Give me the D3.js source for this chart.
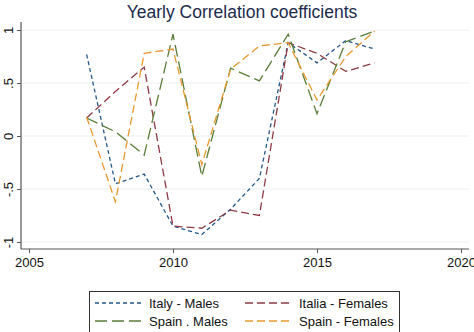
<html>
  <head>
    <meta charset="UTF-8">
    <script src="https://d3js.org/d3.v7.min.js"></script>
    <style>
      body { margin: 0; background: #fff; font-family: Arial, Helvetica, sans-serif; }
    </style>
  </head>
  <body>
    <svg width="474" height="332"></svg>
    <script>
      const years = [2007, 2008, 2009, 2010, 2011, 2012, 2013, 2014, 2015, 2016, 2017];
      const italyMales = [0.77, -0.45, -0.36, -0.85, -0.93, -0.69, -0.40, 0.88, 0.69, 0.90, 0.82];
      const italiaFemales = [0.17, 0.42, 0.65, -0.85, -0.87, -0.70, -0.75, 0.88, 0.78, 0.61, 0.69];
      const spainMales = [0.17, 0.04, -0.18, 0.96, -0.38, 0.64, 0.52, 0.96, 0.21, 0.89, 0.99];
      const spainFemales = [0.18, -0.62, 0.78, 0.82, -0.27, 0.63, 0.85, 0.88, 0.34, 0.75, 0.99];
      const xTicks = [2005, 2010, 2015, 2020];
      const yTicks = [1, 0.5, 0, -0.5, -1];
      const yTickLabels = ["1", ".5", "0", "-.5", "-1"];

      const series = [
        { name: "Italy - Males", values: italyMales, color: "#24588a", dash: "4 3" },
        { name: "Italia - Females", values: italiaFemales, color: "#8e3a44", dash: "8 4" },
        { name: "Spain . Males", values: spainMales, color: "#5a7d38", dash: "12 5" },
        { name: "Spain - Females", values: spainFemales, color: "#e9992f", dash: "8 4" }
      ];

      const svg = d3.select("svg");

      const x = d3.scaleLinear().domain([2005, 2020]).range([29, 461]);
      const y = d3.scaleLinear().domain([-1, 1]).range([242, 30]);

      svg.append("text")
        .attr("x", 242)
        .attr("y", 18)
        .attr("text-anchor", "middle")
        .attr("font-size", 17.5)
        .attr("fill", "#1c2b4d")
        .text("Yearly Correlation coefficients");

      // grid
      svg.append("g")
        .selectAll("line")
        .data(yTicks)
        .join("line")
        .attr("x1", 21)
        .attr("x2", 469)
        .attr("y1", (d) => y(d))
        .attr("y2", (d) => y(d))
        .attr("stroke", "#eaeff2")
        .attr("stroke-width", 1);

      // y axis
      const yAxis = svg.append("g")
        .attr("transform", "translate(21,0)")
        .call(d3.axisLeft(y).tickValues(yTicks).tickSize(4).tickFormat((d, i) => yTickLabels[i]));
      yAxis.select(".domain").attr("d", "M0,22V249").attr("stroke", "#555").attr("stroke-width", 1.2);
      yAxis.selectAll(".tick line").attr("stroke", "#555");
      yAxis.selectAll(".tick text")
        .attr("font-size", 13)
        .attr("font-family", "Arial, Helvetica, sans-serif")
        .attr("fill", "#111")
        .attr("text-anchor", "middle")
        .attr("dy", 0)
        .attr("x", 0)
        .attr("transform", "translate(-8,0) rotate(-90)")
        .attr("dominant-baseline", "auto");

      // x axis
      const xAxis = svg.append("g")
        .attr("transform", "translate(0,249)")
        .call(d3.axisBottom(x).tickValues(xTicks).tickSize(4).tickFormat(d3.format("d")));
      xAxis.select(".domain").attr("d", "M21,0H469").attr("stroke", "#555").attr("stroke-width", 1.2);
      xAxis.selectAll(".tick line").attr("stroke", "#555");
      xAxis.selectAll(".tick text")
        .attr("font-size", 13)
        .attr("font-family", "Arial, Helvetica, sans-serif")
        .attr("fill", "#111")
        .attr("dy", "0.85em");

      const line = d3.line()
        .x((d, i) => x(years[i]))
        .y((d) => y(d));

      svg.append("g")
        .selectAll("path")
        .data(series)
        .join("path")
        .attr("d", (d) => line(d.values))
        .attr("fill", "none")
        .attr("stroke", (d) => d.color)
        .attr("stroke-width", 1.3)
        .attr("stroke-dasharray", (d) => d.dash);

      // legend
      const legend = svg.append("g");
      legend.append("rect")
        .attr("x", 89.5)
        .attr("y", 291.5)
        .attr("width", 310)
        .attr("height", 60)
        .attr("fill", "#fff")
        .attr("stroke", "#333")
        .attr("stroke-width", 1);

      const legendPos = [
        { lx: 95, ty: 303 },
        { lx: 245, ty: 303 },
        { lx: 95, ty: 321 },
        { lx: 245, ty: 321 }
      ];

      const item = legend.selectAll("g.item")
        .data(series)
        .join("g")
        .attr("class", "item")
        .attr("transform", (d, i) => `translate(${legendPos[i].lx},${legendPos[i].ty})`);

      item.append("line")
        .attr("x1", 0)
        .attr("x2", 46)
        .attr("stroke", (d) => d.color)
        .attr("stroke-width", 1.3)
        .attr("stroke-dasharray", (d) => d.dash);

      item.append("text")
        .attr("x", 54)
        .attr("y", 5)
        .attr("font-size", 13)
        .attr("fill", "#111")
        .text((d) => d.name);
    </script>
  </body>
</html>
